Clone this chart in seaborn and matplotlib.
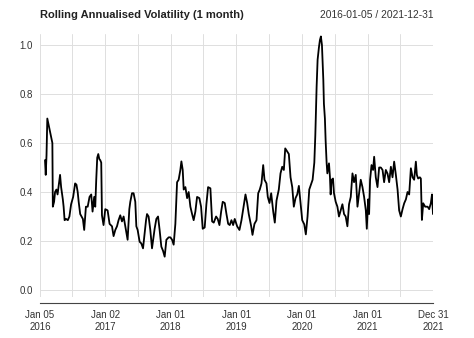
import numpy as np
import pandas as pd
import matplotlib
matplotlib.use("Agg")
import matplotlib.pyplot as plt
import seaborn as sns

title = "Rolling Annualised Volatility (1 month)"
range_label = "2016-01-05 / 2021-12-31"

# time as decimal years
decimal_years = [
    2016.087, 2016.098, 2016.110, 2016.122, 2016.138, 2016.153, 2016.168, 2016.184, 2016.199, 2016.206,
    2016.225, 2016.240, 2016.260, 2016.278, 2016.301, 2016.316, 2016.332, 2016.358, 2016.370, 2016.385,
    2016.408, 2016.434, 2016.458, 2016.484, 2016.515, 2016.545, 2016.565, 2016.584, 2016.599, 2016.622,
    2016.663, 2016.683, 2016.709, 2016.736, 2016.764, 2016.790, 2016.810, 2016.835, 2016.851, 2016.866,
    2016.881, 2016.897, 2016.912, 2016.927, 2016.942, 2016.953, 2016.977, 2017.003, 2017.039, 2017.069,
    2017.106, 2017.130, 2017.156, 2017.182, 2017.206, 2017.232, 2017.258, 2017.283, 2017.319, 2017.344,
    2017.370, 2017.385, 2017.411, 2017.435, 2017.461, 2017.477, 2017.497, 2017.527, 2017.553, 2017.579,
    2017.599, 2017.625, 2017.640, 2017.664, 2017.690, 2017.716, 2017.741, 2017.756, 2017.782, 2017.808,
    2017.832, 2017.858, 2017.884, 2017.909, 2017.935, 2017.970, 2017.996, 2018.022, 2018.046, 2018.072,
    2018.098, 2018.122, 2018.148, 2018.164, 2018.184, 2018.199, 2018.225, 2018.251, 2018.275, 2018.301,
    2018.327, 2018.351, 2018.377, 2018.403, 2018.438, 2018.464, 2018.489, 2018.519, 2018.545, 2018.571,
    2018.606, 2018.632, 2018.657, 2018.693, 2018.718, 2018.744, 2018.770, 2018.794, 2018.825, 2018.851,
    2018.877, 2018.901, 2018.927, 2018.953, 2018.977, 2019.014, 2019.049, 2019.080, 2019.106, 2019.141,
    2019.167, 2019.191, 2019.228, 2019.248, 2019.278, 2019.309, 2019.335, 2019.359, 2019.385, 2019.411,
    2019.431, 2019.461, 2019.481, 2019.507, 2019.533, 2019.564, 2019.588, 2019.614, 2019.649, 2019.675,
    2019.701, 2019.726, 2019.747, 2019.777, 2019.802, 2019.828, 2019.854, 2019.878, 2019.904, 2019.930,
    2019.955, 2019.980, 2020.006, 2020.037, 2020.061, 2020.087, 2020.113, 2020.138, 2020.164, 2020.190,
    2020.205, 2020.225, 2020.240, 2020.260, 2020.275, 2020.290, 2020.306, 2020.327, 2020.336, 2020.351,
    2020.362, 2020.377, 2020.388, 2020.413, 2020.428, 2020.438, 2020.454, 2020.474, 2020.489, 2020.515,
    2020.541, 2020.565, 2020.591, 2020.617, 2020.642, 2020.667, 2020.693, 2020.718, 2020.744, 2020.770,
    2020.794, 2020.820, 2020.846, 2020.871, 2020.896, 2020.922, 2020.947, 2020.973, 2020.988, 2021.008,
    2021.023, 2021.038, 2021.060, 2021.084, 2021.100, 2021.125, 2021.151, 2021.176, 2021.202, 2021.228,
    2021.252, 2021.278, 2021.304, 2021.329, 2021.355, 2021.380, 2021.405, 2021.431, 2021.457, 2021.481,
    2021.507, 2021.533, 2021.558, 2021.584, 2021.609, 2021.634, 2021.660, 2021.686, 2021.710, 2021.736,
    2021.751, 2021.771, 2021.797, 2021.812, 2021.828, 2021.848, 2021.878, 2021.915, 2021.939, 2021.965,
    2021.982, 2021.997,
]

volatility = [
    0.53, 0.47, 0.55, 0.70, 0.68, 0.66, 0.64, 0.62, 0.60, 0.34,
    0.36, 0.40, 0.41, 0.39, 0.44, 0.47, 0.42, 0.37, 0.34, 0.285,
    0.29, 0.285, 0.30, 0.35, 0.38, 0.435, 0.43, 0.40, 0.36, 0.31,
    0.29, 0.245, 0.34, 0.34, 0.38, 0.39, 0.32, 0.38, 0.34, 0.45,
    0.54, 0.555, 0.535, 0.53, 0.52, 0.305, 0.265, 0.33, 0.325, 0.27,
    0.26, 0.22, 0.245, 0.26, 0.285, 0.305, 0.28, 0.30, 0.245, 0.205,
    0.33, 0.36, 0.395, 0.395, 0.36, 0.26, 0.245, 0.197, 0.19, 0.17,
    0.22, 0.285, 0.31, 0.30, 0.245, 0.17, 0.22, 0.25, 0.29, 0.30,
    0.245, 0.177, 0.16, 0.136, 0.205, 0.215, 0.215, 0.205, 0.185, 0.27,
    0.44, 0.45, 0.49, 0.525, 0.49, 0.41, 0.42, 0.375, 0.40, 0.34,
    0.31, 0.285, 0.32, 0.38, 0.375, 0.34, 0.25, 0.255, 0.35, 0.42,
    0.415, 0.28, 0.275, 0.30, 0.29, 0.265, 0.32, 0.36, 0.355, 0.31,
    0.27, 0.265, 0.285, 0.265, 0.29, 0.26, 0.245, 0.285, 0.33, 0.39,
    0.355, 0.31, 0.26, 0.225, 0.27, 0.285, 0.395, 0.41, 0.435, 0.51,
    0.45, 0.435, 0.38, 0.355, 0.395, 0.32, 0.275, 0.365, 0.41, 0.476,
    0.503, 0.49, 0.578, 0.565, 0.555, 0.46, 0.42, 0.34, 0.375, 0.39,
    0.425, 0.355, 0.285, 0.268, 0.227, 0.30, 0.41, 0.43, 0.45, 0.52,
    0.63, 0.83, 0.94, 0.99, 1.02, 1.035, 1.00, 0.857, 0.76, 0.70,
    0.61, 0.52, 0.476, 0.517, 0.46, 0.39, 0.45, 0.455, 0.395, 0.36,
    0.34, 0.30, 0.325, 0.35, 0.31, 0.30, 0.26, 0.35, 0.38, 0.476,
    0.44, 0.47, 0.34, 0.395, 0.45, 0.42, 0.38, 0.325, 0.25, 0.37,
    0.31, 0.45, 0.51, 0.49, 0.544, 0.46, 0.42, 0.50, 0.50, 0.49,
    0.44, 0.49, 0.475, 0.44, 0.503, 0.46, 0.524, 0.47, 0.41, 0.325,
    0.30, 0.33, 0.354, 0.37, 0.40, 0.39, 0.497, 0.46, 0.45, 0.524,
    0.47, 0.455, 0.46, 0.455, 0.286, 0.354, 0.34, 0.34, 0.33, 0.355,
    0.39, 0.31,
]

tick_dates = ["2016-01-05", "2016-07-01", "2017-01-02", "2017-07-03", "2018-01-01",
              "2018-07-02", "2019-01-01", "2019-07-01", "2020-01-01", "2020-07-01",
              "2021-01-01", "2021-07-01", "2021-12-31"]
tick_labels = ["Jan 05\n2016", "", "Jan 02\n2017", "", "Jan 01\n2018", "",
               "Jan 01\n2019", "", "Jan 01\n2020", "", "Jan 01\n2021", "",
               "Dec 31\n2021"]
y_ticks = [0.0, 0.2, 0.4, 0.6, 0.8, 1.0]
y_tick_labels = ["0.0", "0.2", "0.4", "0.6", "0.8", "1.0"]


def to_timestamp(t):
    y = int(t)
    start = pd.Timestamp(year=y, month=1, day=1)
    end = pd.Timestamp(year=y + 1, month=1, day=1)
    return start + (t - y) * (end - start)


df = pd.DataFrame({"date": [to_timestamp(t) for t in decimal_years],
                   "vol": volatility})

sns.set_style("white")
plt.rcParams["font.family"] = ["Liberation Sans", "DejaVu Sans"]

W, H = 474, 338
fig = plt.figure(figsize=(W / 100, H / 100), dpi=100)
ax = fig.add_axes([40 / W, 1 - 297 / H, (433 - 40) / W, (297 - 34) / H])

sns.lineplot(data=df, x="date", y="vol", ax=ax, color="black", linewidth=1.3)

ax.set_xlim(pd.Timestamp("2016-01-05"), pd.Timestamp("2021-12-31"))
ax.set_ylim(-0.0286, 1.045)

xt = pd.to_datetime(tick_dates)
ax.set_xticks(xt)
ax.set_xticklabels(tick_labels)
ax.set_yticks(y_ticks)
ax.set_yticklabels(y_tick_labels)

ax.grid(True, color="#dedede", linewidth=0.7)
ax.set_axisbelow(True)
for s in ["top", "left", "right"]:
    ax.spines[s].set_visible(False)
ax.spines["bottom"].set_position(("outward", 4.5))
ax.spines["bottom"].set_color("#444444")
ax.spines["bottom"].set_linewidth(0.8)
ax.tick_params(axis="x", direction="out", length=3, width=0.8, color="#444444",
               pad=2, labelsize=7, labelcolor="#333333")
ax.tick_params(axis="y", length=0, pad=5, labelsize=7, labelcolor="#333333")
for lab in ax.get_xticklabels():
    lab.set_fontsize(7)
    lab.set_linespacing(1.25)
ax.set_xlabel("")
ax.set_ylabel("")

fig.text(40 / W, 1 - 15 / H, title, ha="left", va="center", fontsize=8,
         fontweight="bold", color="#222222")
fig.text(433 / W, 1 - 15 / H, range_label, ha="right", va="center",
         fontsize=7.4, color="#333333")

fig.savefig("out.png", dpi=100, facecolor="white")
